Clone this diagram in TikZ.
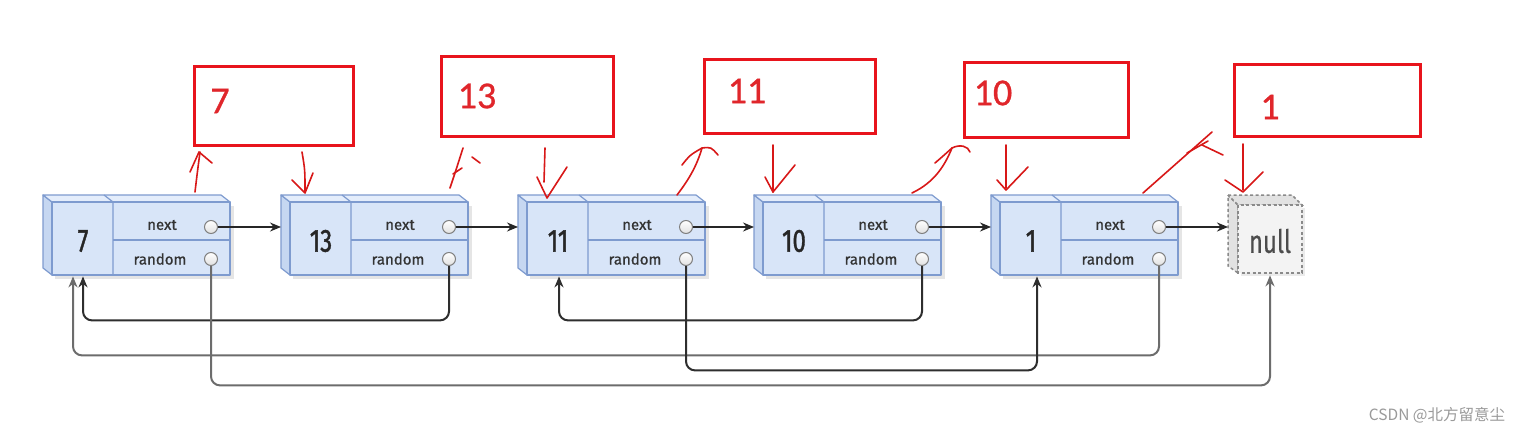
\documentclass[tikz,border=0pt]{standalone}
\usepackage{graphicx}
\usepackage{fontspec}
\setmainfont{Fira Sans}
\newfontfamily\labfont[FakeBold=0.8]{Fira Sans}
\newfontfamily\valfont[FakeBold=1.5]{Fira Sans}
\newfontfamily\redfont[FakeBold=0.8]{Carlito}
\newfontfamily\cjkfont{Noto Sans CJK SC}
\usetikzlibrary{arrows.meta,calc}
\definecolor{boxfill}{HTML}{D8E5F8}
\definecolor{boxtop}{HTML}{E4EDFB}
\definecolor{boxleft}{HTML}{C6D7F1}
\definecolor{boxline}{HTML}{7E9BCF}
\definecolor{redline}{HTML}{E8141C}
\definecolor{redtext}{HTML}{E0262B}
\definecolor{inkred}{HTML}{D81818}
\definecolor{conndark}{HTML}{2E2E2E}
\definecolor{connmid}{HTML}{6C6C6C}
\definecolor{nullfront}{HTML}{F3F3F3}
\definecolor{nullside}{HTML}{E2E2E2}
\definecolor{nullline}{HTML}{8A8A8A}
\definecolor{wmgray}{HTML}{9A9A9A}

\tikzset{
 face/.style={draw=boxline, line width=1.2pt, line join=round},
 port/.style={circle, draw=black!50, line width=1pt, minimum size=13pt, inner sep=0pt, top color=white, bottom color=black!12},
 fieldlabel/.style={font=\labfont\fontsize{15}{15}\selectfont, text=black!80, inner sep=0},
 valuelabel/.style={font=\valfont\fontsize{32}{32}\selectfont, text=black!85, inner sep=0},
 hull/.style={inner sep=0, minimum width=187pt, minimum height=80pt, anchor=north west},
 nextarrow/.style={-{Stealth[length=11pt,width=9pt]}, line width=1.3pt, draw=black!85},
 randarrow/.style={-{Stealth[length=11pt,width=9pt]}, line width=2pt, rounded corners=9pt},
 nullface/.style={draw=nullline, line width=1.5pt, dash pattern=on 3pt off 2.5pt},
 redbox/.style={draw=redline, line width=3pt, fill=white, inner sep=0, anchor=north west},
 redval/.style={font=\redfont\fontsize{38}{38}\selectfont, text=redtext, inner sep=0},
 ink/.style={draw=inkred, line width=1.6pt, line cap=round, line join=round},
}

\newcommand\drawlistnode[3]{%
 \begin{scope}[shift={(#2,0)}]
  \fill[black, opacity=0.10] (12,206) rectangle (191,279);
  \filldraw[face, fill=boxleft] (0,195) -- (9,202) -- (9,275) -- (0,268) -- cycle;
  \filldraw[face, fill=boxtop] (0,195) -- (178,195) -- (187,202) -- (9,202) -- cycle;
  \filldraw[face, fill=boxfill] (9,202) rectangle (187,275);
  \draw[face] (61,195) -- (70,202) -- (70,275);
  \draw[face] (70,240) -- (187,240);
  \node[hull] (#1) at (0,195) {};
  \node[valuelabel] (#1val) at (40,241) {\scalebox{0.75}[1]{#3}};
  \node[fieldlabel] (#1nl) at (119,225) {next};
  \node[fieldlabel] (#1rl) at (117,259) {random};
  \node[port] (#1next) at (168,227) {};
  \node[port] (#1rand) at (168,259) {};
 \end{scope}}

\begin{document}
\begin{tikzpicture}[x=1pt,y=-1pt]
\useasboundingbox (0,0) rectangle (1539,436);
\fill[white] (0,0) rectangle (1539,436);

% list nodes
\drawlistnode{n1}{43}{7}
\drawlistnode{n2}{281}{13}
\drawlistnode{n3}{518}{11}
\drawlistnode{n4}{754}{10}
\drawlistnode{n5}{991}{1}

% null box
\fill[black, opacity=0.08] (1241,208) rectangle (1305,276);
\filldraw[nullface, fill=nullside] (1228,195) -- (1238,205) -- (1238,273) -- (1228,266) -- cycle;
\filldraw[nullface, fill=nullside] (1228,195) -- (1292,195) -- (1302,205) -- (1238,205) -- cycle;
\filldraw[nullface, fill=nullfront] (1238,205) rectangle (1302,273);
\node[inner sep=0, minimum width=74pt, minimum height=78pt, anchor=north west] (null) at (1228,195) {};
\node[font=\labfont\fontsize{32}{32}\selectfont, text=black!70, inner sep=0] (nulltxt) at (1270,241) {\scalebox{0.75}[1]{null}};

% next pointers
\draw[nextarrow] (n1next) -- (n1next -| n2.west);
\draw[nextarrow] (n2next) -- (n2next -| n3.west);
\draw[nextarrow] (n3next) -- (n3next -| n4.west);
\draw[nextarrow] (n4next) -- (n4next -| n5.west);
\draw[nextarrow, line width=1.8pt] (n5next) -- (n5next -| null.west);

% random pointers
\draw[randarrow, draw=conndark] (n2rand.south) |- ($(n1.south west)+(40,45)$) -- ($(n1.south west)+(40,1)$);
\draw[randarrow, draw=connmid] (n5rand.south) |- ($(n1.south west)+(30,80)$) -- ($(n1.south west)+(30,1)$);
\draw[randarrow, draw=conndark] (n4rand.south) |- ($(n3.south west)+(41,45)$) -- ($(n3.south west)+(41,1)$);
\draw[randarrow, draw=conndark] (n3rand.south) |- ($(n5.south west)+(46,95)$) -- ($(n5.south west)+(46,1)$);
\draw[randarrow, draw=connmid] (n1rand.south) |- ($(null.south west)+(42,112)$) -- ($(null.south west)+(42,2)$);

% red boxes
\node[redbox, minimum width=159pt, minimum height=79pt] (r1) at (193,65) {};
\node[redbox, minimum width=172pt, minimum height=80pt] (r2) at (440,55) {};
\node[redbox, minimum width=171pt, minimum height=74pt] (r3) at (703,58) {};
\node[redbox, minimum width=164pt, minimum height=75pt] (r4) at (963,61) {};
\node[redbox, minimum width=186pt, minimum height=72pt] (r5) at (1233,63) {};
\node[redval] (v1) at (220,101) {7};
\node[redval] (v2) at (477,96) {13};
\node[redval] (v3) at (747,91) {11};
\node[redval] (v4) at (993,93) {10};
\node[redval] (v5) at (1270,107) {1};

% hand-drawn red arrows
\draw[ink] (195,192) .. controls (197,175) .. (200,152);
\draw[ink] (190,172) -- (199,152) -- (212,163);
\draw[ink] (302,152) .. controls (305,170) .. (305,192);
\draw[ink] (292,180) -- (305,193) -- (313,173);

\draw[ink] (450,188) .. controls (456,170) .. (463,148);
\draw[ink] (453,174) -- (462,168);
\draw[ink] (472,157) -- (480,163);
\draw[ink] (545,148) -- (544,182);
\draw[ink] (537,177) -- (547,198) -- (567,167);

\draw[ink] (677,195) .. controls (690,178) and (697,165) .. (702,148);
\draw[ink] (682,165) .. controls (690,155) .. (702,148) .. controls (711,147) .. (718,155);
\draw[ink] (773,145) -- (773,192);
\draw[ink] (765,177) -- (773,192) -- (795,165);

\draw[ink] (912,193) .. controls (935,182) and (945,165) .. (952,148) .. controls (960,144) and (968,146) .. (970,152);
\draw[ink] (935,163) .. controls (942,157) .. (952,148);
\draw[ink] (1006,145) -- (1006,188);
\draw[ink] (997,180) -- (1006,190) -- (1028,167);

\draw[ink] (1143,193) -- (1212,132);
\draw[ink] (1187,153) -- (1208,141);
\draw[ink] (1202,145) -- (1223,155);
\draw[ink] (1243,144) -- (1243,190);
\draw[ink] (1225,180) -- (1243,192) -- (1263,172);

% watermark
\node[font=\cjkfont\fontsize{15.5}{15.5}\selectfont, text=wmgray, inner sep=0] (wm) at (1437,415) {CSDN @北方留意尘};
\end{tikzpicture}
\end{document}
